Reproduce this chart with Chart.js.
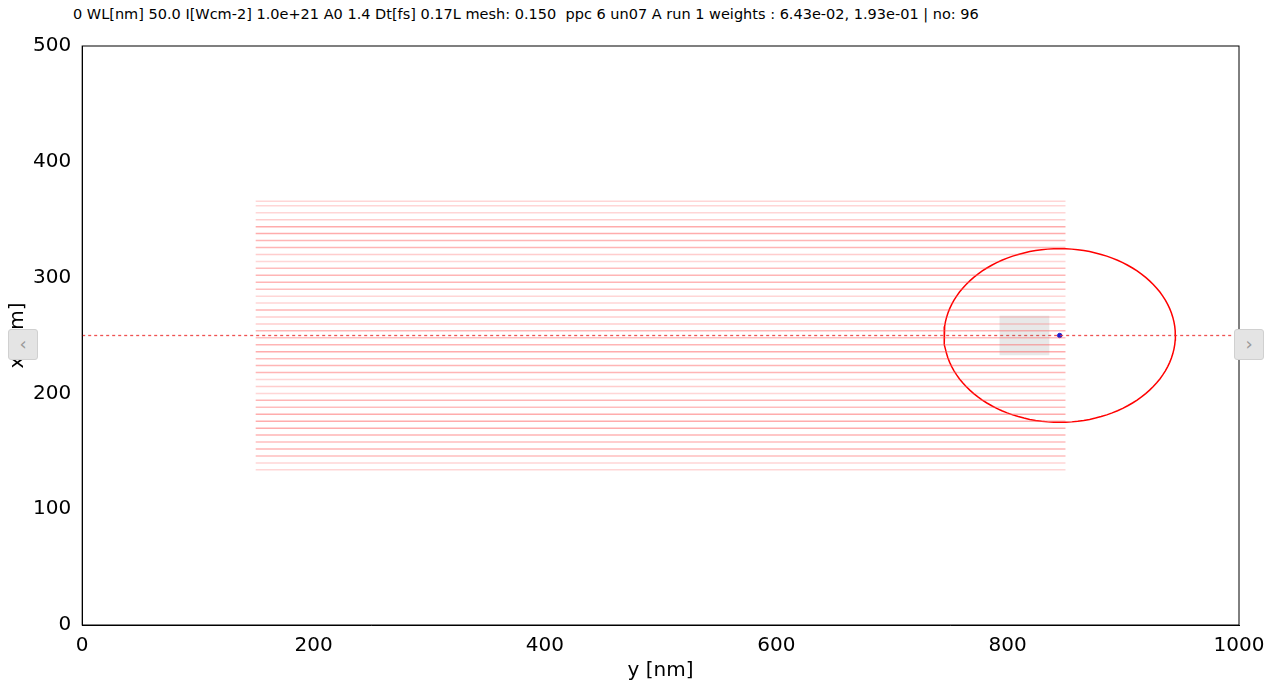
<!DOCTYPE html>
<html>
<head>
<meta charset="utf-8">
<script src="https://cdn.jsdelivr.net/npm/chart.js@4"></script>
<style>
  body { margin: 0; background: #fff; font-family: "DejaVu Sans", sans-serif; }
  #wrap { position: relative; width: 1272px; height: 688px; }
  #title { position: absolute; left: 73px; top: 6px; font-size: 14.5px; color: #000; white-space: pre; }
  .nav { position: absolute; top: 329px; width: 28px; height: 29px; background: #e4e4e4; border: 1px solid #d0d0d0; border-radius: 3px; color: #999; font-size: 18px; text-align: center; line-height: 28px; }
</style>
</head>
<body>
<div id="wrap">
  <div id="title">0 WL[nm] 50.0 I[Wcm-2] 1.0e+21 A0 1.4 Dt[fs] 0.17L mesh: 0.150  ppc 6 un07 A run 1 weights : 6.43e-02, 1.93e-01 | no: 96</div>
  <canvas id="c" width="1272" height="688" style="position:absolute;left:0;top:0"></canvas>
  <div class="nav" style="left:8px">&#8249;</div>
  <div class="nav" style="left:1234px">&#8250;</div>
</div>
<script>
// target lines (x [nm] positions), spanning y from 150 to 850 nm
const lineXs = [134, 140, 146, 152, 158, 164, 170, 176, 182, 188, 194, 200, 206, 212, 218, 224, 230, 236, 242, 248,
                254, 260, 266, 272, 278, 284, 290, 296, 302, 308, 314, 320, 326, 332, 338, 344, 350, 356, 362, 366];
const lineAlpha = [0.25, 0.25, 0.4, 0.45, 0.4, 0.45, 0.5, 0.5, 0.5, 0.4, 0.45, 0.25, 0.3, 0.25, 0.45, 0.45, 0.4, 0.5, 0.45, 0.4,
                   0.45, 0.3, 0.3, 0.45, 0.25, 0.25, 0.4, 0.45, 0.45, 0.4, 0.25, 0.3, 0.45, 0.45, 0.5, 0.5, 0.3, 0.25, 0.25, 0.25];
const lineSpan = [150, 850];
const axisLine = 250;
const ellipseCenter = [845, 250];
const ellipseRadii = [100, 75];
const boxX = [793, 836];
const boxY = [233, 267];
const dotPoint = [845, 250];
const xTicks = [0, 200, 400, 600, 800, 1000];
const yTicks = [0, 100, 200, 300, 400, 500];

const datasets = [];
lineXs.forEach((v, i) => {
  datasets.push({
    data: [{ x: lineSpan[0], y: v }, { x: lineSpan[1], y: v }],
    borderColor: `rgba(255,90,90,${lineAlpha[i]})`, borderWidth: 1.5, pointRadius: 0
  });
});
datasets.push({
  data: [{ x: boxX[0], y: boxY[0] }, { x: boxX[1], y: boxY[0] }, { x: boxX[1], y: boxY[1] }, { x: boxX[0], y: boxY[1] }, { x: boxX[0], y: boxY[0] }],
  borderWidth: 0, borderColor: 'rgba(0,0,0,0)', pointRadius: 0, fill: 'shape', backgroundColor: 'rgba(110,110,110,0.16)'
});
datasets.push({
  data: [{ x: 0, y: axisLine }, { x: 1000, y: axisLine }],
  borderColor: 'rgba(235,40,40,0.8)', borderWidth: 1.3, borderDash: [3, 3], pointRadius: 0
});
const ell = [];
for (let k = 0; k <= 120; k++) {
  const t = k / 120 * 2 * Math.PI;
  ell.push({ x: ellipseCenter[0] + ellipseRadii[0] * Math.cos(t), y: ellipseCenter[1] + ellipseRadii[1] * Math.sin(t) });
}
datasets.push({ data: ell, borderColor: '#ff0000', borderWidth: 1.5, pointRadius: 0 });
datasets.push({
  data: [{ x: dotPoint[0], y: dotPoint[1] }],
  showLine: false, pointRadius: 2.2, pointBackgroundColor: '#2020d0', pointBorderColor: '#2020d0'
});

new Chart(document.getElementById('c'), {
  type: 'scatter',
  data: { datasets: datasets.map(d => Object.assign({ showLine: true, tension: 0 }, d)) },
  options: {
    responsive: false, animation: false,
    layout: { padding: { left: 2, right: 33, top: 46, bottom: 5 } },
    plugins: { legend: { display: false }, tooltip: { enabled: false } },
    scales: {
      x: {
        min: 0, max: 1000,
        afterBuildTicks: a => { a.ticks = xTicks.map(v => ({ value: v })); },
        grid: { display: false },
        border: { color: '#000', width: 1 },
        ticks: { color: '#000', font: { size: 20, family: 'DejaVu Sans' }, maxRotation: 0, callback: v => String(v), padding: 1 },
        title: { display: true, text: 'y [nm]', color: '#000', font: { size: 20, family: 'DejaVu Sans' }, padding: { top: 0, bottom: 0 } }
      },
      y: {
        min: 0, max: 500,
        afterBuildTicks: a => { a.ticks = yTicks.map(v => ({ value: v })); },
        grid: { display: false },
        border: { color: '#000', width: 1 },
        ticks: { color: '#000', font: { size: 20, family: 'DejaVu Sans' } },
        title: { display: true, text: 'x [nm]', color: '#000', font: { size: 20, family: 'DejaVu Sans' }, padding: { bottom: 0 } }
      }
    }
  },
  plugins: [{
    id: 'frame',
    afterDraw(chart) {
      const a = chart.chartArea, g = chart.ctx;
      g.save(); g.strokeStyle = '#000'; g.lineWidth = 1;
      g.strokeRect(a.left, a.top, a.right - a.left, a.bottom - a.top);
      g.restore();
    }
  }]
});
</script>
</body>
</html>
